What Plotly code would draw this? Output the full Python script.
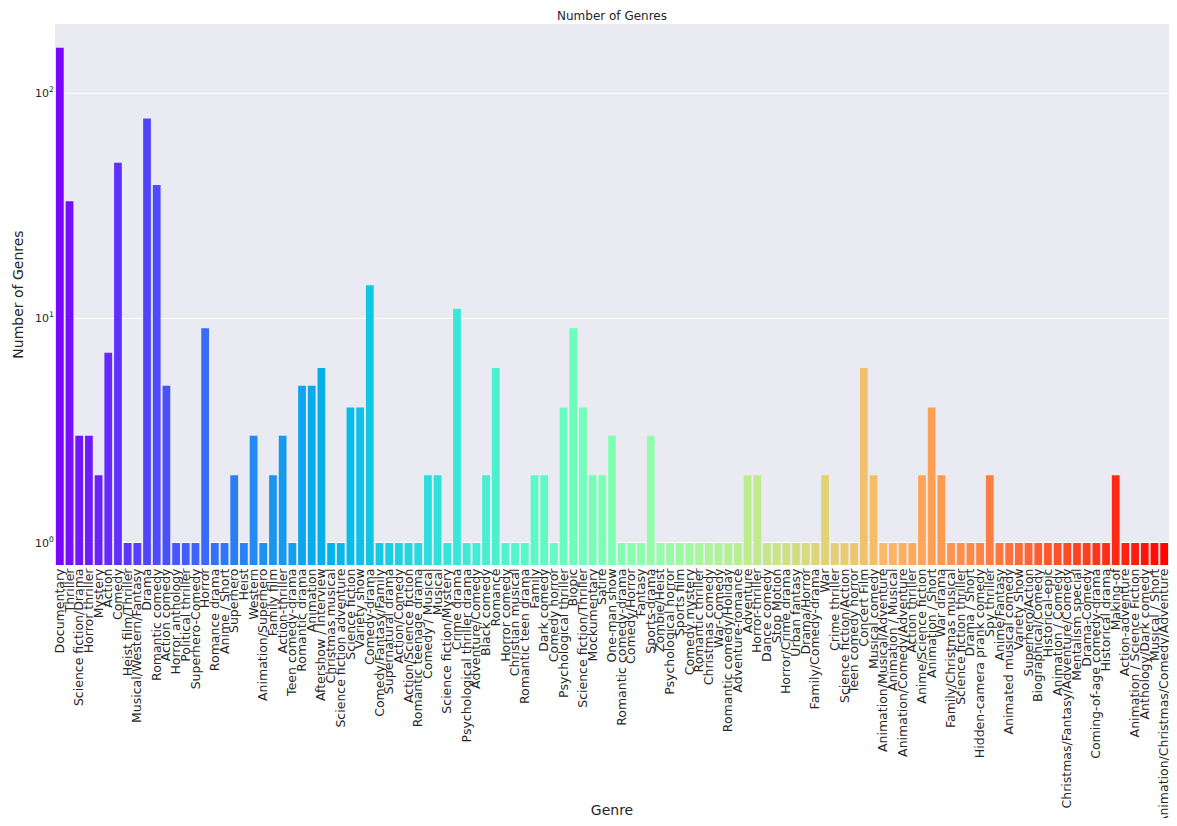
import math
import plotly.graph_objects as go

genres = ["Documentary","Thriller","Science fiction/Drama","Horror thriller","Mystery","Action","Comedy","Heist film/Thriller","Musical/Western/Fantasy","Drama","Romantic comedy","Action comedy","Horror anthology","Political thriller","Superhero-Comedy","Horror","Romance drama","Anime / Short","Superhero","Heist","Western","Animation/Superhero","Family film","Action-thriller","Teen comedy-drama","Romantic drama","Animation","Aftershow / Interview","Christmas musical","Science fiction adventure","Science fiction","Variety show","Comedy-drama","Comedy/Fantasy/Family","Supernatural drama","Action/Comedy","Action/Science fiction","Romantic teenage drama","Comedy / Musical","Musical","Science fiction/Mystery","Crime drama","Psychological thriller drama","Adventure/Comedy","Black comedy","Romance","Horror comedy","Christian musical","Romantic teen drama","Family","Dark comedy","Comedy horror","Psychological thriller","Biopic","Science fiction/Thriller","Mockumentary","Satire","One-man show","Romantic comedy-drama","Comedy/Horror","Fantasy","Sports-drama","Zombie/Heist","Psychological horror","Sports film","Comedy mystery","Romantic thriller","Christmas comedy","War-Comedy","Romantic comedy/Holiday","Adventure-romance","Adventure","Horror-thriller","Dance comedy","Stop Motion","Horror/Crime drama","Urban fantasy","Drama/Horror","Family/Comedy-drama","War","Crime thriller","Science fiction/Action","Teen comedy horror","Concert Film","Musical comedy","Animation/Musical/Adventure","Animation / Musical","Animation/Comedy/Adventure","Action thriller","Anime/Science fiction","Animation / Short","War drama","Family/Christmas musical","Science fiction thriller","Drama / Short","Hidden-camera prank comedy","Spy thriller","Anime/Fantasy","Animated musical comedy","Variety Show","Superhero/Action","Biographical/Comedy","Historical-epic","Animation / Comedy","Christmas/Fantasy/Adventure/Comedy","Mentalism special","Drama-Comedy","Coming-of-age comedy-drama","Historical drama","Making-of","Action-adventure","Animation / Science Fiction","Anthology/Dark comedy","Musical / Short","Animation/Christmas/Comedy/Adventure"]
counts = [159,33,3,3,2,7,49,1,1,77,39,5,1,1,1,9,1,1,2,1,3,1,2,3,1,5,5,6,1,1,4,4,14,1,1,1,1,1,2,2,1,11,1,1,2,6,1,1,1,2,2,1,4,9,4,2,2,3,1,1,1,3,1,1,1,1,1,1,1,1,1,2,2,1,1,1,1,1,1,2,1,1,1,6,2,1,1,1,1,2,4,2,1,1,1,1,2,1,1,1,1,1,1,1,1,1,1,1,1,2,1,1,1,1,1]

def rainbow(x):
    r = min(1, max(0, abs(2*x - 0.5)))
    g = min(1, max(0, math.sin(math.pi*x)))
    b = min(1, max(0, math.cos(math.pi/2*x)))
    return f"rgb({int(r*255)},{int(g*255)},{int(b*255)})"

n = len(genres)
colors = [rainbow((i+1)/(n+1)) for i in range(n)]

fig = go.Figure(go.Bar(x=genres, y=counts, marker=dict(color=colors, line=dict(width=0))))
fig.update_layout(
    width=1161, height=810,
    margin=dict(l=47, r=0, t=16, b=253),
    paper_bgcolor="white", plot_bgcolor="#eaeaf2",
    font=dict(family="DejaVu Sans", size=12, color="#262626"),
    title=dict(text="Number of Genres", x=0.5, xref="paper", y=1, yref="container", yanchor="top", pad=dict(t=4), font=dict(size=12)),
    bargap=0.2, showlegend=False,
)
fig.update_xaxes(title_text="Genre", tickangle=-90, showgrid=False, ticks="", tickfont=dict(size=12.5),
                 tickmode="array", tickvals=genres, ticktext=genres, automargin=False, title_standoff=220)
fig.update_yaxes(type="log", range=[-0.098, 2.307], tickvals=[1,10,100],
                 ticktext=["10<sup>0</sup>","10<sup>1</sup>","10<sup>2</sup>"], tickfont=dict(size=11),
                 gridcolor="white", title_text="Number of Genres", title_standoff=8, zeroline=False, automargin=False)
fig.write_html("out.html")
